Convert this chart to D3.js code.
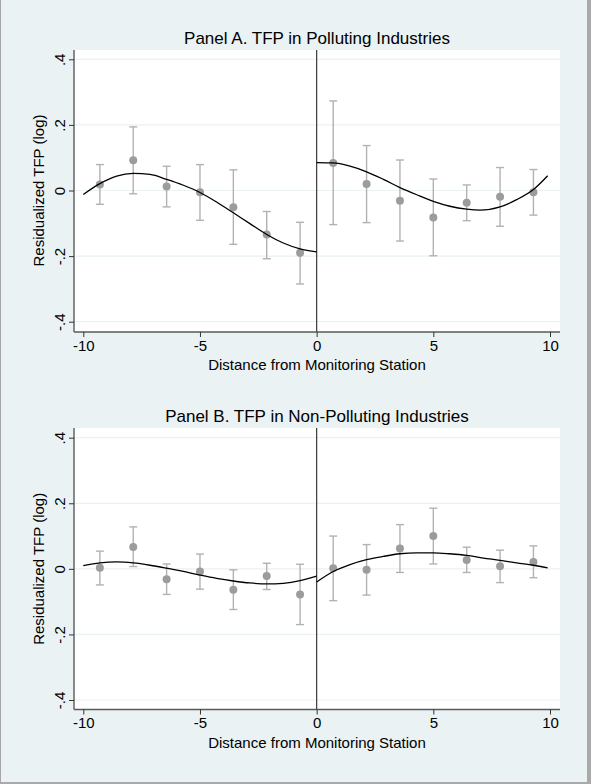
<!DOCTYPE html>
<html><head><meta charset="utf-8">
<script src="https://cdn.jsdelivr.net/npm/d3@7"></script>
<style>
html,body{margin:0;padding:0;background:#eaf2f3;}
svg{display:block;}
text{font-family:"Liberation Sans",Arial,sans-serif;fill:#000;}
</style></head><body>
<script>
// ---------- data ----------
const binX = [-9.29,-7.86,-6.43,-5.0,-3.57,-2.14,-0.71,0.71,2.14,3.57,5.0,6.43,7.86,9.29];

const aTitle = "Panel A. TFP in Polluting Industries";
const aPoint = [0.018,0.092,0.012,-0.005,-0.051,-0.134,-0.190,0.084,0.020,-0.031,-0.082,-0.037,-0.019,-0.005];
const aHigh  = [0.079,0.194,0.074,0.079,0.063,-0.064,-0.097,0.273,0.137,0.093,0.035,0.017,0.070,0.064];
const aLow   = [-0.042,-0.010,-0.050,-0.091,-0.164,-0.208,-0.285,-0.104,-0.098,-0.154,-0.199,-0.092,-0.109,-0.075];
const aFitLeftX  = [-10,-9.29,-8.57,-7.86,-7.14,-6.43,-5.71,-5.0,-4.29,-3.57,-2.86,-2.14,-1.43,-0.71,0];
const aFitLeftY  = [-0.012,0.021,0.044,0.052,0.049,0.034,0.016,-0.006,-0.035,-0.068,-0.101,-0.134,-0.160,-0.178,-0.187];
const aFitRightX = [0,0.71,1.43,2.14,2.86,3.57,4.29,5.0,5.71,6.43,7.0,7.86,8.57,9.29,9.9];
const aFitRightY = [0.085,0.084,0.074,0.057,0.034,0.009,-0.013,-0.033,-0.048,-0.057,-0.060,-0.050,-0.028,0.003,0.045];

const bTitle = "Panel B. TFP in Non-Polluting Industries";
const bPoint = [0.003,0.067,-0.032,-0.008,-0.064,-0.022,-0.078,0.002,-0.003,0.062,0.100,0.027,0.008,0.021];
const bHigh  = [0.054,0.128,0.015,0.045,-0.003,0.017,0.014,0.100,0.074,0.135,0.185,0.066,0.057,0.070];
const bLow   = [-0.049,0.007,-0.078,-0.062,-0.124,-0.063,-0.170,-0.097,-0.080,-0.011,0.015,-0.011,-0.042,-0.027];
const bFitLeftX  = [-10,-9.29,-8.57,-7.86,-7.14,-6.43,-5.71,-5.0,-4.29,-3.57,-2.86,-2.14,-1.43,-0.71,0];
const bFitLeftY  = [0.010,0.018,0.021,0.018,0.011,0.002,-0.008,-0.019,-0.029,-0.037,-0.043,-0.046,-0.044,-0.036,-0.022];
const bFitRightX = [0,0.71,1.43,2.14,2.86,3.57,4.29,5.0,5.71,6.43,7.14,7.86,8.57,9.29,9.9];
const bFitRightY = [-0.040,-0.008,0.013,0.028,0.038,0.046,0.049,0.049,0.046,0.041,0.033,0.026,0.018,0.011,0.003];

const xTicks = [-10,-5,0,5,10];
const xTickLabels = ["-10","-5","0","5","10"];
const yTicks = [0.4,0.2,0,-0.2,-0.4];
const yTickLabels = [".4",".2","0","-.2","-.4"];
const xLabel = "Distance from Monitoring Station";
const yLabel = "Residualized TFP (log)";

// ---------- drawing ----------
const W = 591, H = 784;
const FONT = "Liberation Sans, Arial, sans-serif";
const svg = d3.select("body").append("svg").attr("width", W).attr("height", H);
svg.append("rect").attr("x",0).attr("y",0).attr("width",W).attr("height",H).attr("fill","#eaf2f3");
// outer border
svg.append("line").attr("x1",0.5).attr("x2",0.5).attr("y1",0).attr("y2",H).attr("stroke","#a6a6a6").attr("stroke-width",1);
svg.append("rect").attr("x",587).attr("y",0).attr("width",4).attr("height",H).attr("fill","#a9a9a9");
svg.append("rect").attr("x",0).attr("y",782).attr("width",W).attr("height",2).attr("fill","#a9a9a9");

const x = d3.scaleLinear().domain([-10,10]).range([83.3,550]);

function panel(cfg){
  const y = d3.scaleLinear().domain([-0.4,0.4]).range([cfg.yBot, cfg.yTop]);
  const g = svg.append("g");
  const left = 74, right = 560;
  g.append("rect").attr("x",left).attr("y",cfg.top).attr("width",right-left).attr("height",cfg.bottom-cfg.top).attr("fill","#fff");
  // gridlines
  g.selectAll(".grid").data(yTicks).enter().append("line")
    .attr("x1",left).attr("x2",right)
    .attr("y1",d=>y(d)).attr("y2",d=>y(d))
    .attr("stroke","#eaf2f3").attr("stroke-width",1.2);
  // vertical line at 0
  g.append("line").attr("x1",x(0)).attr("x2",x(0)).attr("y1",cfg.top).attr("y2",cfg.bottom)
    .attr("stroke","#3a3a3a").attr("stroke-width",1.2);
  // error bars
  const n = binX.length;
  const idx = d3.range(n);
  const ec = "#b2b2b2";
  g.selectAll(".eb").data(idx).enter().append("line")
    .attr("x1",i=>x(binX[i])).attr("x2",i=>x(binX[i]))
    .attr("y1",i=>y(cfg.high[i])).attr("y2",i=>y(cfg.low[i]))
    .attr("stroke",ec).attr("stroke-width",1.4);
  [cfg.high, cfg.low].forEach(arr=>{
    g.selectAll(null).data(idx).enter().append("line")
      .attr("x1",i=>x(binX[i])-4).attr("x2",i=>x(binX[i])+4)
      .attr("y1",i=>y(arr[i])).attr("y2",i=>y(arr[i]))
      .attr("stroke",ec).attr("stroke-width",1.4);
  });
  // points
  g.selectAll(".pt").data(idx).enter().append("circle")
    .attr("cx",i=>x(binX[i])).attr("cy",i=>y(cfg.pt[i])).attr("r",4)
    .attr("fill","#9c9c9c");
  // fit lines
  const line = d3.line().x(d=>x(d[0])).y(d=>y(d[1])).curve(d3.curveMonotoneX);
  [[cfg.flx,cfg.fly],[cfg.frx,cfg.fry]].forEach(([xs,ys])=>{
    g.append("path").attr("d", line(xs.map((v,i)=>[v,ys[i]])))
      .attr("fill","none").attr("stroke","#000").attr("stroke-width",1.3);
  });
  // axes
  const ax = d3.axisBottom(x).tickValues(xTicks).tickSize(5).tickPadding(3).tickFormat((d,i)=>xTickLabels[i]);
  const xa = g.append("g").attr("transform",`translate(0,${cfg.bottom})`).call(ax);
  xa.select(".domain").attr("d",`M${left},0H${right}`).attr("stroke","#5a5a5a").attr("stroke-width",1.4);
  xa.selectAll(".tick line").attr("stroke","#333");
  xa.selectAll(".tick text").attr("font-size",15).attr("font-family",FONT).attr("fill","#000");
  const ay = d3.axisLeft(y).tickValues(yTicks).tickSize(5).tickFormat((d,i)=>yTickLabels[i]);
  const ya = g.append("g").attr("transform",`translate(${left},0)`).call(ay);
  ya.select(".domain").attr("d",`M0,${cfg.top}V${cfg.bottom}`).attr("stroke","#5a5a5a").attr("stroke-width",1.4);
  ya.selectAll(".tick line").attr("stroke","#333");
  ya.selectAll(".tick text")
    .attr("font-size",15).attr("font-family",FONT).attr("fill","#000")
    .attr("x",null).attr("dy",null)
    .attr("text-anchor","middle")
    .attr("transform","translate(-14,0) rotate(-90)")
    .attr("y",0).attr("dy","0.35em");
  // titles
  g.append("text").attr("x",317).attr("y",cfg.top-6).attr("text-anchor","middle")
    .attr("font-size",17).text(cfg.title);
  g.append("text").attr("x",317).attr("y",cfg.bottom+38).attr("text-anchor","middle")
    .attr("font-size",15).text(xLabel);
  g.append("text").attr("transform",`translate(44,${y(0)}) rotate(-90)`).attr("text-anchor","middle")
    .attr("font-size",15).text(yLabel);
}

panel({top:50,bottom:332,yTop:59.3,yBot:321.7,title:aTitle,pt:aPoint,high:aHigh,low:aLow,
  flx:aFitLeftX,fly:aFitLeftY,frx:aFitRightX,fry:aFitRightY});
panel({top:428,bottom:709.5,yTop:437.7,yBot:700,title:bTitle,pt:bPoint,high:bHigh,low:bLow,
  flx:bFitLeftX,fly:bFitLeftY,frx:bFitRightX,fry:bFitRightY});
</script>
</body></html>
